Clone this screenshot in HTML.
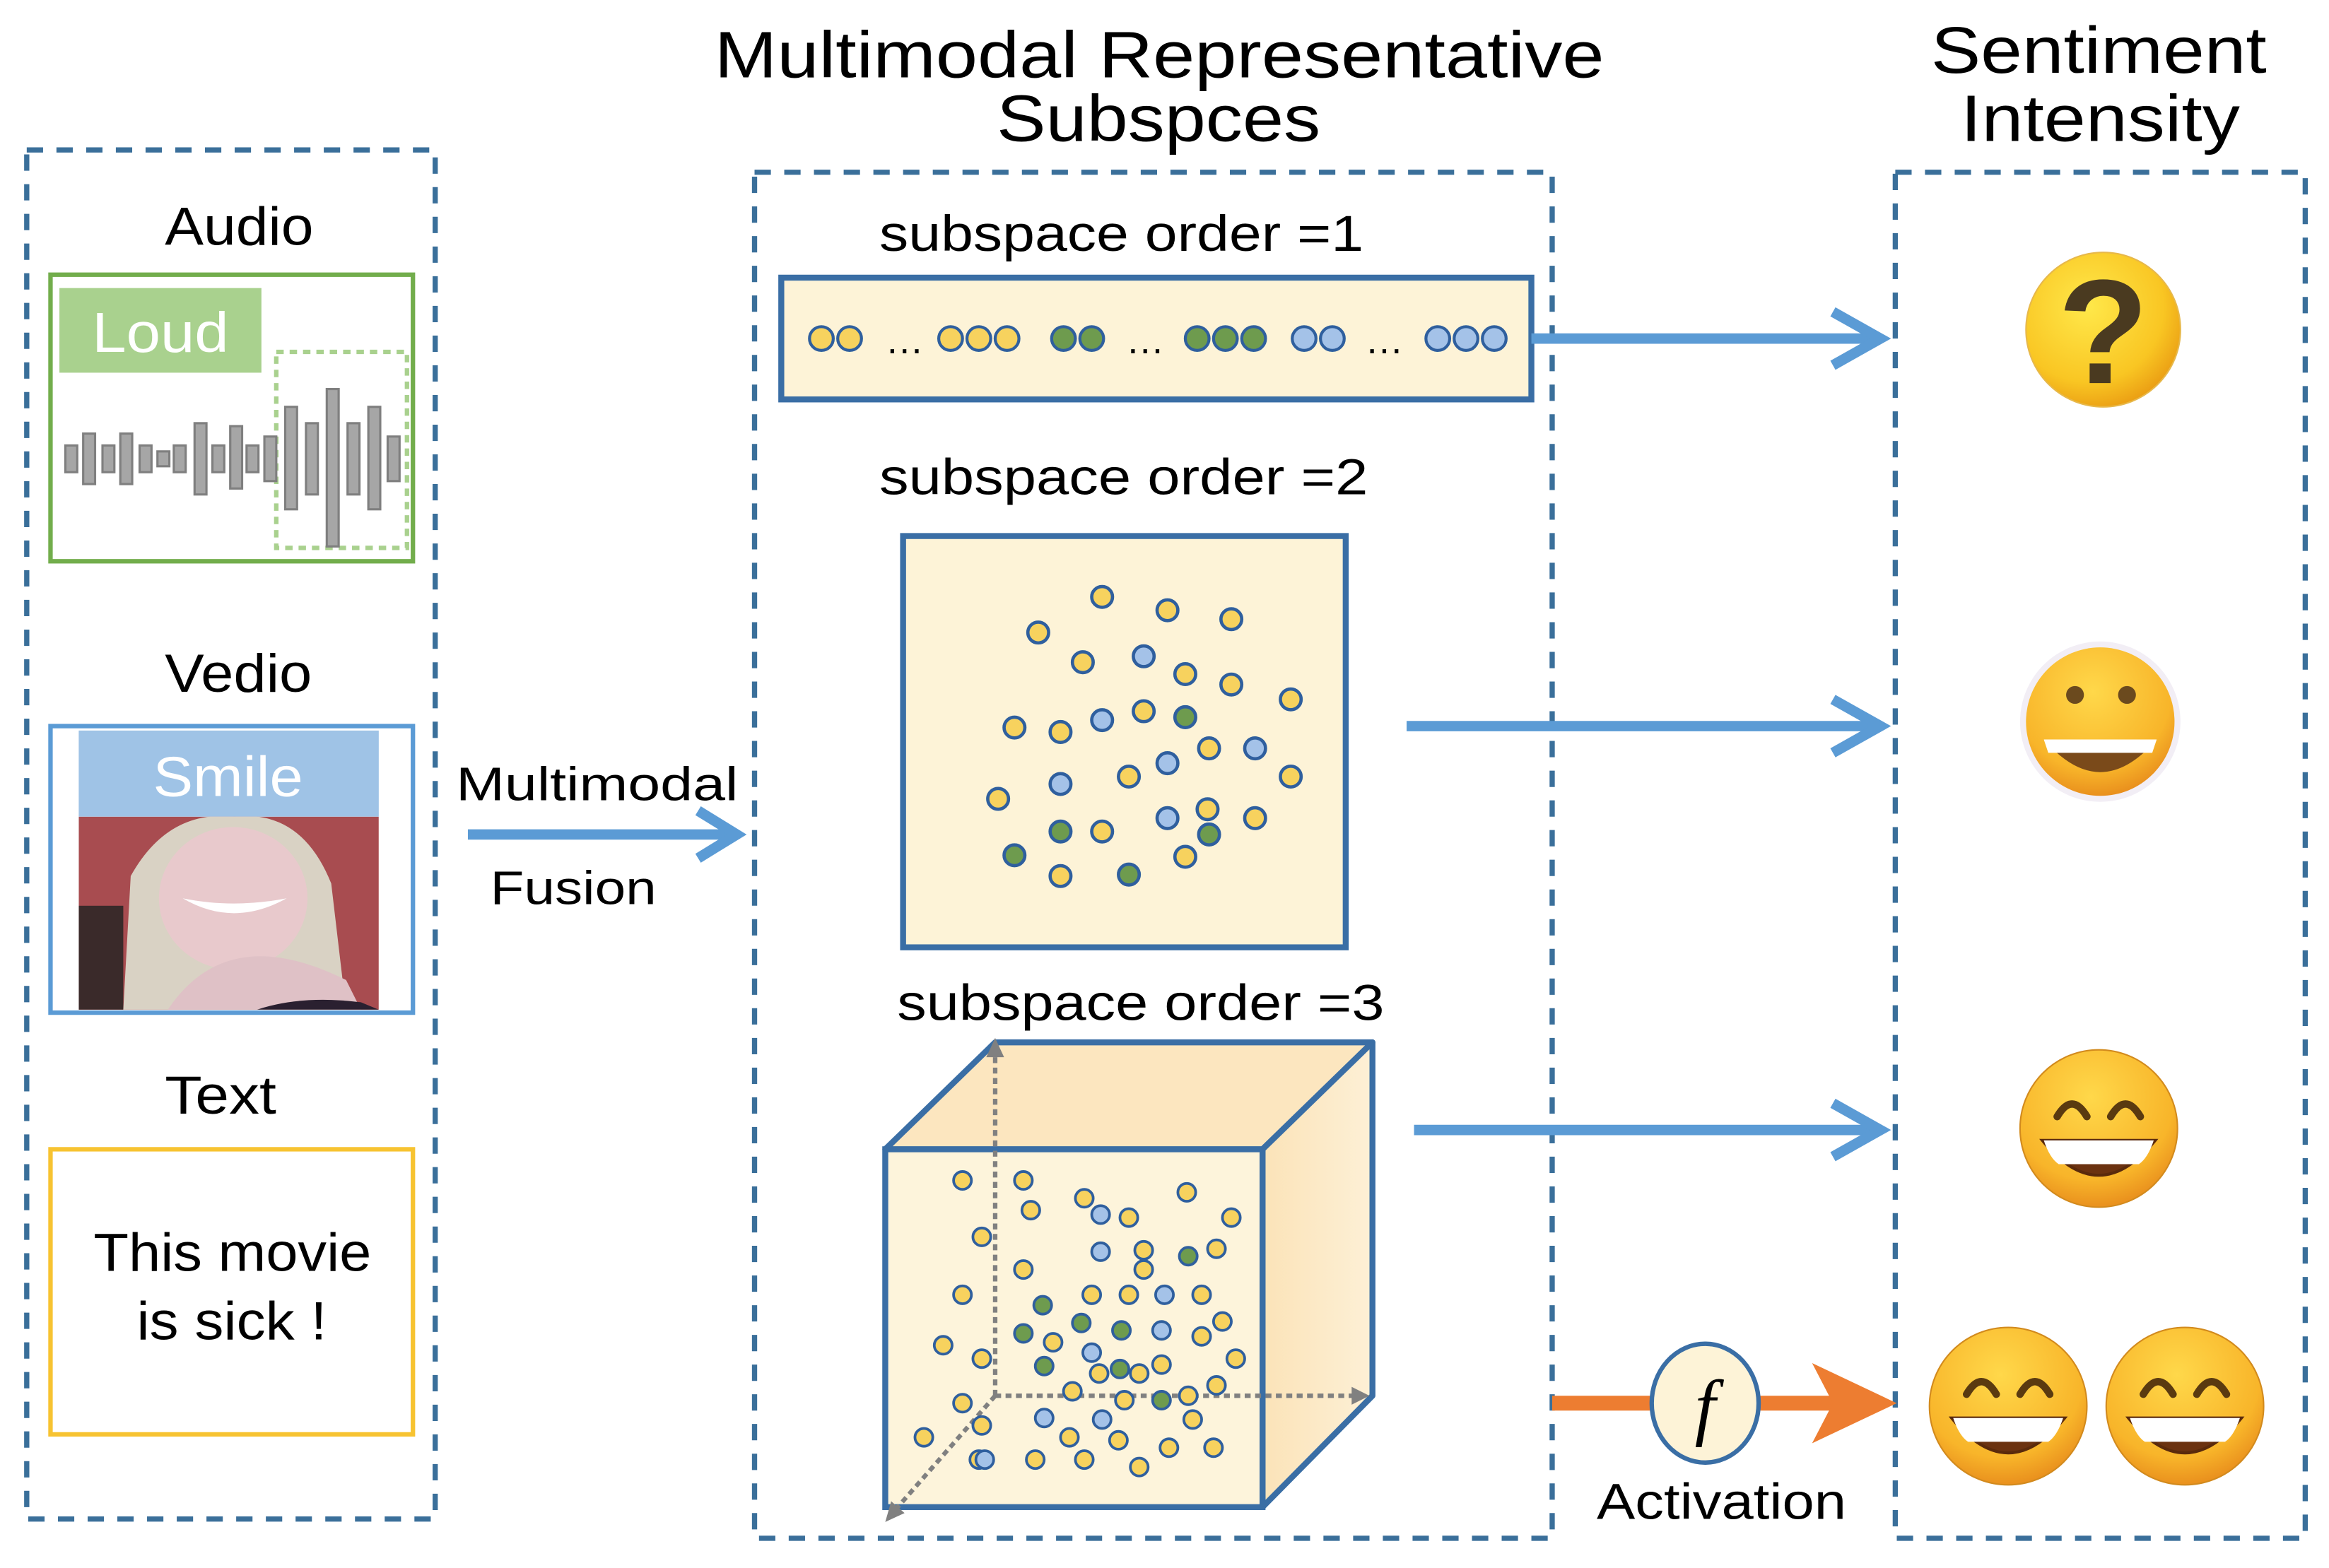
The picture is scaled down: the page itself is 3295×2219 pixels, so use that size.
<!DOCTYPE html>
<html><head><meta charset="utf-8">
<style>
html,body{margin:0;padding:0;background:#fff;}
svg{display:block;}
text{font-family:"Liberation Sans",sans-serif;}
</style></head>
<body>
<svg width="3295" height="2219" viewBox="0 0 1568 1056" preserveAspectRatio="none" xmlns="http://www.w3.org/2000/svg">
<defs>
<radialGradient id="em" cx="0.4" cy="0.35" r="0.7">
<stop offset="0" stop-color="#ffe84a"/><stop offset="0.7" stop-color="#f9c623"/><stop offset="1" stop-color="#e99a12"/>
</radialGradient>
<radialGradient id="em2" cx="0.45" cy="0.3" r="0.75">
<stop offset="0" stop-color="#ffd84a"/><stop offset="0.7" stop-color="#f8b52a"/><stop offset="1" stop-color="#e5861a"/>
</radialGradient>
<linearGradient id="cubeR" x1="0" x2="1"><stop offset="0" stop-color="#fbe3b8"/><stop offset="1" stop-color="#fdf0d6"/></linearGradient>
</defs>

<g fill="none" stroke="#3a6f9a" stroke-width="3.5" stroke-dasharray="11,9">
<rect x="18" y="101" width="275" height="922"/>
<rect x="508" y="116" width="537" height="920"/>
<rect x="1276" y="116" width="276" height="920"/>
</g>

<g font-size="44" fill="#000" lengthAdjust="spacingAndGlyphs">
<text x="481" y="52" textLength="599" lengthAdjust="spacingAndGlyphs">Multimodal Representative</text>
<text x="671" y="95" textLength="218" lengthAdjust="spacingAndGlyphs">Subspces</text>
<text x="1300" y="49" textLength="226" lengthAdjust="spacingAndGlyphs">Sentiment</text>
<text x="1320" y="95" textLength="188" lengthAdjust="spacingAndGlyphs">Intensity</text>
</g>

<rect x="34" y="185" width="244" height="193" fill="#fff" stroke="#72ad4c" stroke-width="3"/>
<rect x="34" y="489" width="244" height="193" fill="#fff" stroke="#5b9bd5" stroke-width="3"/>
<rect x="34" y="774" width="244" height="192" fill="#fff" stroke="#f7c331" stroke-width="3"/>

<g font-size="36" fill="#000">
<text x="111" y="165" textLength="100" lengthAdjust="spacingAndGlyphs">Audio</text>
<text x="111" y="466" textLength="99" lengthAdjust="spacingAndGlyphs">Vedio</text>
<text x="111" y="750" textLength="75" lengthAdjust="spacingAndGlyphs">Text</text>
<text x="63" y="856" textLength="187" lengthAdjust="spacingAndGlyphs">This movie</text>
<text x="92" y="902" textLength="128" lengthAdjust="spacingAndGlyphs">is sick !</text>
</g>
<rect x="40" y="194" width="136" height="57" fill="#a9d18e"/>
<text x="62" y="237" font-size="38" fill="#fff" textLength="92" lengthAdjust="spacingAndGlyphs">Loud</text>
<rect x="186" y="237" width="88" height="132" fill="none" stroke="#a9d18e" stroke-width="3" stroke-dasharray="5,4"/>
<g fill="#a6a6a6" stroke="#7f7f7f" stroke-width="1.5">
<rect x="44" y="300" width="8" height="18"/>
<rect x="56" y="292" width="8" height="34"/>
<rect x="69" y="300" width="8" height="18"/>
<rect x="81" y="292" width="8" height="34"/>
<rect x="94" y="300" width="8" height="18"/>
<rect x="106" y="304" width="8" height="10"/>
<rect x="117" y="300" width="8" height="18"/>
<rect x="131" y="285" width="8" height="48"/>
<rect x="143" y="300" width="8" height="18"/>
<rect x="155" y="287" width="8" height="42"/>
<rect x="166" y="300" width="8" height="18"/>
<rect x="178" y="294" width="8" height="30"/>
<rect x="192" y="274" width="8" height="69"/>
<rect x="206" y="285" width="8" height="48"/>
<rect x="220" y="262" width="8" height="106"/>
<rect x="234" y="285" width="8" height="48"/>
<rect x="248" y="274" width="8" height="69"/>
<rect x="261" y="294" width="8" height="30"/>
</g>

<rect x="53" y="492" width="202" height="58" fill="#9fc3e6"/>
<text x="103" y="536" font-size="38" fill="#fff" textLength="101" lengthAdjust="spacingAndGlyphs">Smile</text>
<svg x="53" y="550" width="202" height="130" viewBox="0 0 202 130">
<rect width="202" height="130" fill="#a84c50"/>
<rect x="0" y="60" width="30" height="70" fill="#3a2a2a"/>
<path d="M30 130 L35 40 Q60 -5 105 0 Q150 -5 170 45 L180 130 Z" fill="#d9d2c4"/>
<ellipse cx="104" cy="55" rx="50" ry="48" fill="#e8c9cc"/>
<path d="M70 55 Q104 75 140 55 Q104 62 70 55Z" fill="#fff"/>
<path d="M60 130 Q100 70 180 110 L190 130Z" fill="#dfc1c6"/>
<path d="M120 130 Q150 120 190 125 L202 130Z" fill="#2a2030"/>
</svg>

<text x="307" y="539" font-size="32" textLength="190" lengthAdjust="spacingAndGlyphs">Multimodal</text>
<text x="330" y="609" font-size="32" textLength="112" lengthAdjust="spacingAndGlyphs">Fusion</text>
<line x1="315" y1="562" x2="494" y2="562" stroke="#5b9bd5" stroke-width="7"/>
<polyline points="470,546 496,562 470,578" fill="none" stroke="#5b9bd5" stroke-width="7"/>

<g font-size="34" fill="#000">
<text x="592" y="169" textLength="326" lengthAdjust="spacingAndGlyphs">subspace order =1</text>
<text x="592" y="333" textLength="329" lengthAdjust="spacingAndGlyphs">subspace order =2</text>
<text x="604" y="687" textLength="328" lengthAdjust="spacingAndGlyphs">subspace order =3</text>
</g>
<rect x="526" y="187" width="505" height="82" fill="#fdf3d7" stroke="#3a6ea5" stroke-width="4"/>
<g stroke="#2f5f9e" stroke-width="2">
<g fill="#f7d25e"><circle cx="553" cy="228" r="8"/><circle cx="572" cy="228" r="8"/><circle cx="640" cy="228" r="8"/><circle cx="659" cy="228" r="8"/><circle cx="678" cy="228" r="8"/></g>
<g fill="#6e9b4e"><circle cx="716" cy="228" r="8"/><circle cx="735" cy="228" r="8"/><circle cx="806" cy="228" r="8"/><circle cx="825" cy="228" r="8"/><circle cx="844" cy="228" r="8"/></g>
<g fill="#a4c2e8"><circle cx="878" cy="228" r="8"/><circle cx="897" cy="228" r="8"/><circle cx="968" cy="228" r="8"/><circle cx="987" cy="228" r="8"/><circle cx="1006" cy="228" r="8"/></g>
</g>
<g font-size="26" fill="#000"><text x="596" y="238">…</text><text x="758" y="238">…</text><text x="919" y="238">…</text></g>

<rect x="608" y="361" width="298" height="277" fill="#fdf3d7" stroke="#3a6ea5" stroke-width="4"/>
<g stroke="#2f5f9e" stroke-width="2.2">
<g fill="#f7d25e">
<circle cx="742" cy="402" r="7"/><circle cx="786" cy="411" r="7"/><circle cx="829" cy="417" r="7"/><circle cx="699" cy="426" r="7"/><circle cx="729" cy="446" r="7"/><circle cx="798" cy="454" r="7"/><circle cx="829" cy="461" r="7"/><circle cx="869" cy="471" r="7"/><circle cx="683" cy="490" r="7"/><circle cx="714" cy="493" r="7"/><circle cx="770" cy="479" r="7"/><circle cx="814" cy="504" r="7"/><circle cx="760" cy="523" r="7"/><circle cx="869" cy="523" r="7"/><circle cx="672" cy="538" r="7"/><circle cx="813" cy="545" r="7"/><circle cx="845" cy="551" r="7"/><circle cx="742" cy="560" r="7"/><circle cx="798" cy="577" r="7"/><circle cx="714" cy="590" r="7"/>
</g>
<g fill="#a4c2e8"><circle cx="770" cy="442" r="7"/><circle cx="742" cy="485" r="7"/><circle cx="845" cy="504" r="7"/><circle cx="786" cy="514" r="7"/><circle cx="714" cy="528" r="7"/><circle cx="786" cy="551" r="7"/></g>
<g fill="#6e9b4e"><circle cx="798" cy="483" r="7"/><circle cx="714" cy="560" r="7"/><circle cx="814" cy="562" r="7"/><circle cx="683" cy="576" r="7"/><circle cx="760" cy="589" r="7"/></g>
</g>

<polygon points="596,774 670,702 924,702 850,774" fill="#fce6bf" stroke="#3a6ea5" stroke-width="4" stroke-linejoin="round"/>
<polygon points="850,774 924,702 924,940 850,1015" fill="url(#cubeR)" stroke="#3a6ea5" stroke-width="4" stroke-linejoin="round"/>
<rect x="596" y="774" width="254" height="241" fill="#fdf3d7" fill-opacity="0.9" stroke="#3a6ea5" stroke-width="4"/>
<g stroke="#808080" stroke-width="3" stroke-dasharray="4,3" fill="none">
<line x1="670" y1="940" x2="670" y2="706"/>
<line x1="670" y1="940" x2="916" y2="940"/>
<line x1="670" y1="940" x2="600" y2="1020"/>
</g>
<g fill="#808080"><polygon points="670,699 664,712 676,712"/><polygon points="922,940 910,934 910,946"/><polygon points="596,1025 600,1011 609,1019"/></g>
<g stroke="#2f5f9e" stroke-width="1.8">
<g fill="#f7d25e">
<circle cx="648" cy="795" r="6"/><circle cx="689" cy="795" r="6"/><circle cx="730" cy="807" r="6"/><circle cx="760" cy="820" r="6"/><circle cx="799" cy="803" r="6"/><circle cx="829" cy="820" r="6"/><circle cx="694" cy="815" r="6"/><circle cx="661" cy="833" r="6"/><circle cx="770" cy="842" r="6"/><circle cx="819" cy="841" r="6"/><circle cx="689" cy="855" r="6"/><circle cx="770" cy="855" r="6"/><circle cx="648" cy="872" r="6"/><circle cx="735" cy="872" r="6"/><circle cx="760" cy="872" r="6"/><circle cx="809" cy="872" r="6"/><circle cx="823" cy="890" r="6"/><circle cx="635" cy="906" r="6"/><circle cx="709" cy="904" r="6"/><circle cx="661" cy="915" r="6"/><circle cx="809" cy="900" r="6"/><circle cx="782" cy="919" r="6"/><circle cx="832" cy="915" r="6"/><circle cx="767" cy="925" r="6"/><circle cx="740" cy="925" r="6"/><circle cx="819" cy="933" r="6"/><circle cx="722" cy="937" r="6"/><circle cx="757" cy="943" r="6"/><circle cx="648" cy="945" r="6"/><circle cx="800" cy="940" r="6"/><circle cx="803" cy="956" r="6"/><circle cx="622" cy="968" r="6"/><circle cx="661" cy="960" r="6"/><circle cx="720" cy="968" r="6"/><circle cx="753" cy="970" r="6"/><circle cx="787" cy="975" r="6"/><circle cx="817" cy="975" r="6"/><circle cx="659" cy="983" r="6"/><circle cx="697" cy="983" r="6"/><circle cx="730" cy="983" r="6"/><circle cx="767" cy="988" r="6"/>
</g>
<g fill="#a4c2e8"><circle cx="741" cy="818" r="6"/><circle cx="741" cy="843" r="6"/><circle cx="784" cy="872" r="6"/><circle cx="782" cy="896" r="6"/><circle cx="735" cy="911" r="6"/><circle cx="703" cy="955" r="6"/><circle cx="742" cy="956" r="6"/><circle cx="663" cy="983" r="6"/></g>
<g fill="#6e9b4e"><circle cx="800" cy="846" r="6"/><circle cx="702" cy="879" r="6"/><circle cx="728" cy="891" r="6"/><circle cx="689" cy="898" r="6"/><circle cx="755" cy="896" r="6"/><circle cx="703" cy="920" r="6"/><circle cx="754" cy="922" r="6"/><circle cx="782" cy="943" r="6"/></g>
</g>

<g stroke="#5b9bd5" stroke-width="7" fill="none">
<line x1="1031" y1="228" x2="1264" y2="228"/><polyline points="1234,210 1266,228 1234,246"/>
<line x1="947" y1="489" x2="1264" y2="489"/><polyline points="1234,471 1266,489 1234,507"/>
<line x1="952" y1="761" x2="1264" y2="761"/><polyline points="1234,743 1266,761 1234,779"/>
</g>
<line x1="1045" y1="945" x2="1112" y2="945" stroke="#ed7d31" stroke-width="10"/>
<line x1="1185" y1="945" x2="1250" y2="945" stroke="#ed7d31" stroke-width="10"/>
<polygon points="1220,918 1277,945 1220,972 1234,945" fill="#ed7d31"/>
<ellipse cx="1148" cy="945" rx="36" ry="40" fill="#fdf3d7" stroke="#3a6ea5" stroke-width="3"/>
<text x="1148" y="964" font-size="50" font-style="italic" text-anchor="middle" style="font-family:'Liberation Serif',serif">f</text>
<text x="1075" y="1023" font-size="34" textLength="168" lengthAdjust="spacingAndGlyphs">Activation</text>

<circle cx="1416" cy="222" r="52" fill="url(#em)" stroke="#e7b84a" stroke-width="1"/>
<text x="1416" y="258" font-size="100" font-weight="bold" fill="#4a3a20" text-anchor="middle">?</text>

<circle cx="1414" cy="486" r="54" fill="#f2eef5"/>
<circle cx="1414" cy="486" r="50" fill="url(#em2)"/>
<circle cx="1397" cy="468" r="6" fill="#6b4a1e"/><circle cx="1432" cy="468" r="6" fill="#6b4a1e"/>
<path d="M1376 498 Q1414 542 1452 498 Z" fill="#7a4a1a"/>
<path d="M1376 498 L1452 498 L1449 507 L1379 507 Z" fill="#fff"/>

<g id="grin">
<circle cx="1413" cy="760" r="53" fill="url(#em2)" stroke="#d28a1d" stroke-width="1"/>
<path d="M1385 752 Q1395 735 1405 752" fill="none" stroke="#5a3a10" stroke-width="5" stroke-linecap="round"/>
<path d="M1421 752 Q1431 735 1441 752" fill="none" stroke="#5a3a10" stroke-width="5" stroke-linecap="round"/>
<path d="M1375 768 Q1413 815 1451 768 Z" fill="#6b3210" stroke="#5a2a0c" stroke-width="2"/>
<path d="M1376 768 L1450 768 Q1446 780 1440 784 L1386 784 Q1380 780 1376 768Z" fill="#fff"/>
</g>
<use href="#grin" transform="translate(-61,187)"/>
<use href="#grin" transform="translate(58,187)"/>
</svg>
</body></html>
